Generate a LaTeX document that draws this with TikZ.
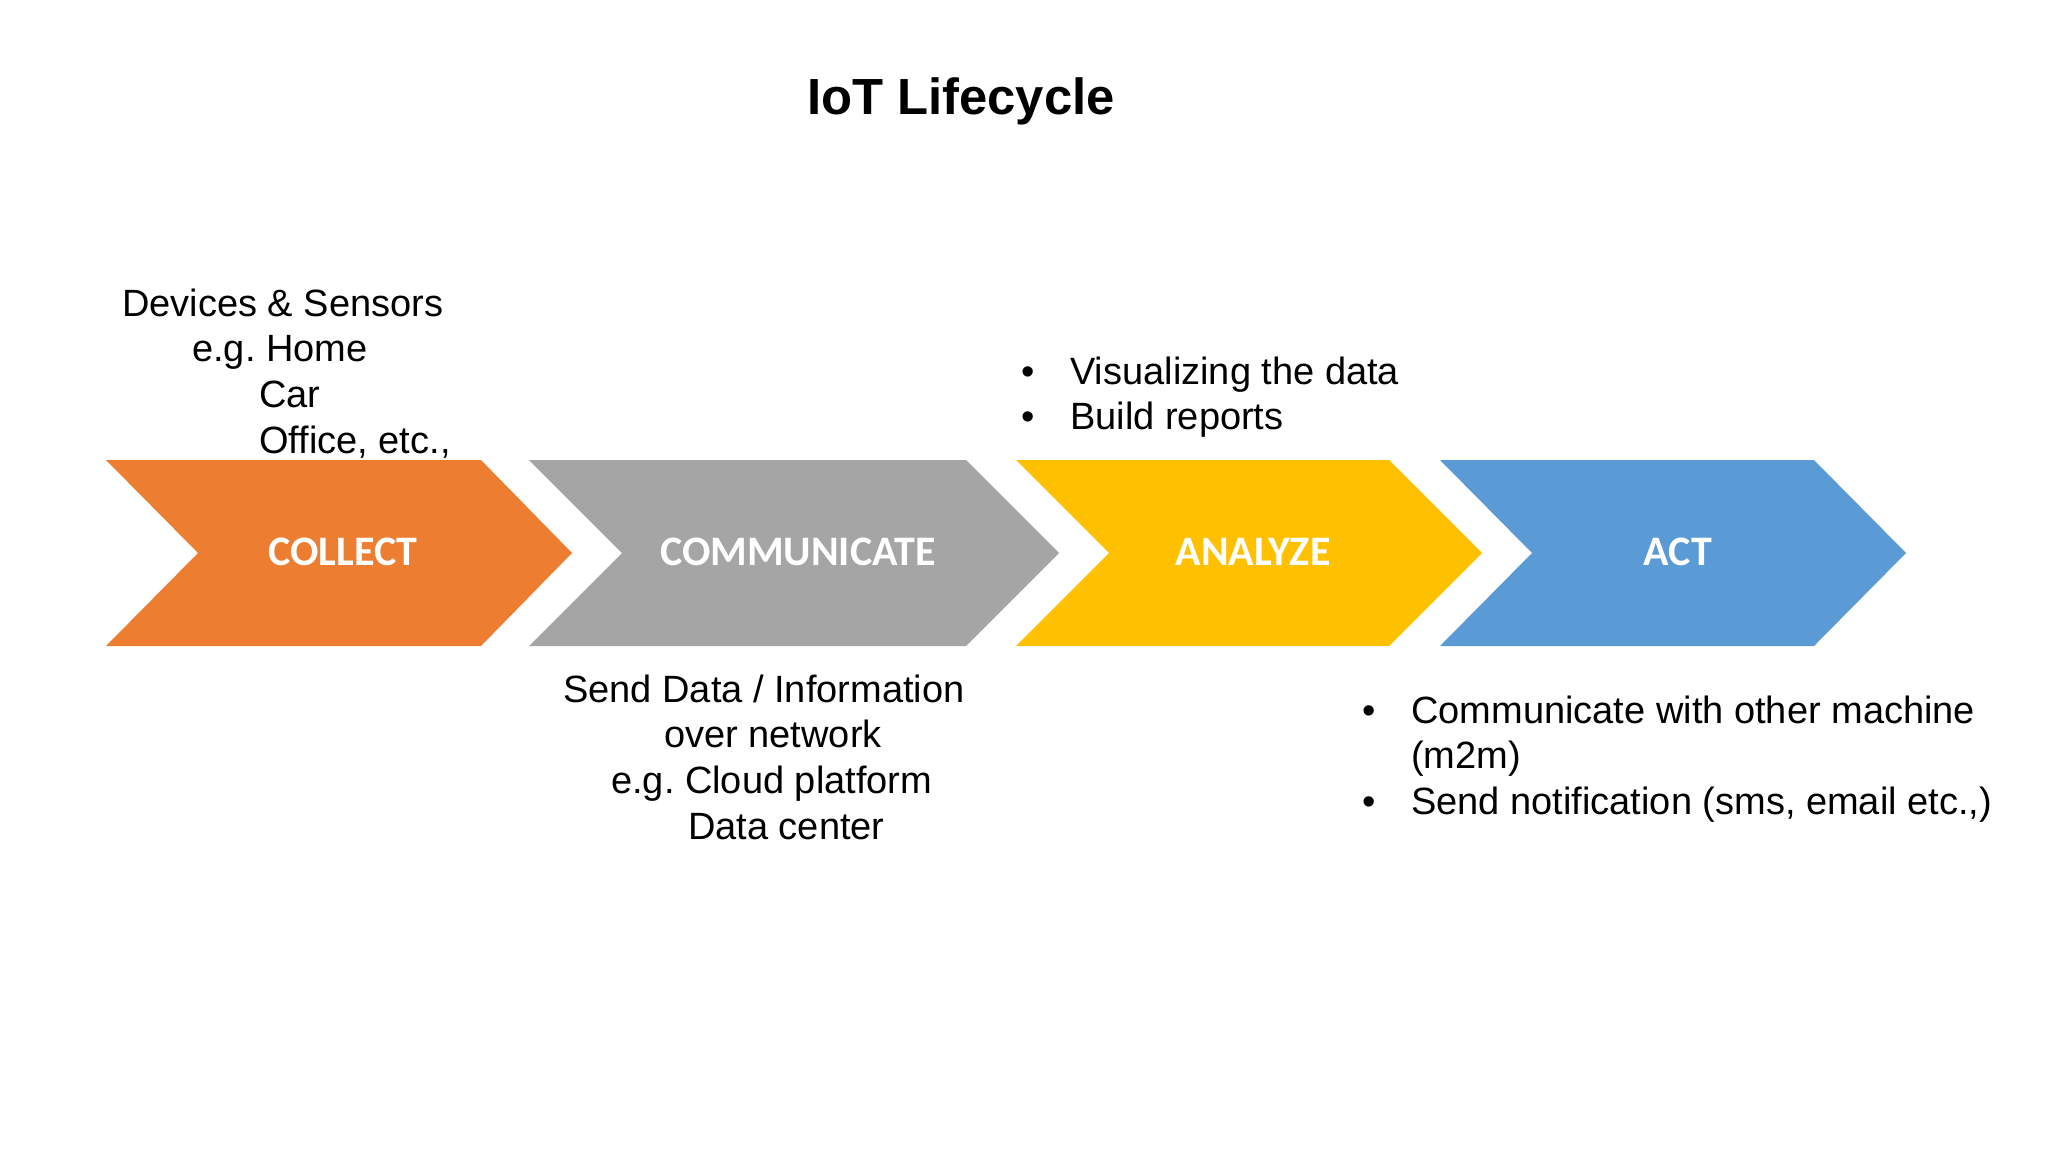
\documentclass[tikz,border=0pt]{standalone}
\usepackage{fontspec}
\setmainfont{Liberation Sans}
\newfontfamily\chevfont{Carlito}
\usetikzlibrary{positioning}

\definecolor{collectorange}{HTML}{ED7D31}
\definecolor{commgray}{HTML}{A5A5A5}
\definecolor{analyzeyellow}{HTML}{FFC000}
\definecolor{actblue}{HTML}{5B9BD5}

\tikzset{
  steplabel/.style={text=white, font=\chevfont\bfseries\fontsize{42}{50}\selectfont, inner sep=0pt, anchor=base},
  notetext/.style={font=\fontsize{38}{45.7}\selectfont, inner sep=0pt, anchor=base west},
}
\newcommand{\bul}{\makebox[49pt][l]{•}}

\begin{document}
\begin{tikzpicture}[x=1pt, y=-1pt]
  \useasboundingbox (0,0) rectangle (2048,1152);
  % Title
  \node[font=\bfseries\fontsize{50.8}{60}\selectfont, inner sep=0pt, anchor=base] (title) at (961,114) {IoT Lifecycle};
  % Chevrons
  \fill[collectorange] (106,460) -- (481,460) -- (572,553) -- (481,646) -- (106,646) -- (198,553) -- cycle;
  \fill[commgray] (529,460) -- (966,460) -- (1059,553) -- (966,646) -- (529,646) -- (622,553) -- cycle;
  \fill[analyzeyellow] (1016,460) -- (1389,460) -- (1482,553) -- (1389,646) -- (1016,646) -- (1109,553) -- cycle;
  \fill[actblue] (1440,460) -- (1814,460) -- (1906,553) -- (1814,646) -- (1440,646) -- (1532,553) -- cycle;
  % Stage labels
  \node[steplabel] (collect) at (343,565) {COLLECT};
  \node[steplabel] (communicate) at (798,565) {COMMUNICATE};
  \node[steplabel] (analyze) at (1253,565) {ANALYZE};
  \node[steplabel] (act) at (1678,565) {ACT};
  % Notes above and below
  \node[notetext] (devices) at (122,316) {\begin{tabular}[t]{@{}l@{}}
    Devices \& Sensors\\
    \hspace*{70pt}e.g.\ Home\\
    \hspace*{137pt}Car\\
    \hspace*{137pt}Office, etc.,
  \end{tabular}};
  \node[notetext] (senddata) at (563,702) {\begin{tabular}[t]{@{}l@{}}
    Send Data / Information\\
    \hspace*{101pt}over network\\
    \hspace*{48pt}e.g.\ Cloud platform\\
    \hspace*{125pt}Data center
  \end{tabular}};
  \node[notetext] (visualize) at (1021,384) {\begin{tabular}[t]{@{}l@{}}
    \bul Visualizing the data\\
    \bul Build reports
  \end{tabular}};
  \node[notetext] (notify) at (1362,723) {\begin{tabular}[t]{@{}l@{}}
    \bul Communicate with other machine\\
    \hspace*{49pt}(m2m)\\
    \bul Send notification (sms, email etc.,)
  \end{tabular}};
\end{tikzpicture}
\end{document}
